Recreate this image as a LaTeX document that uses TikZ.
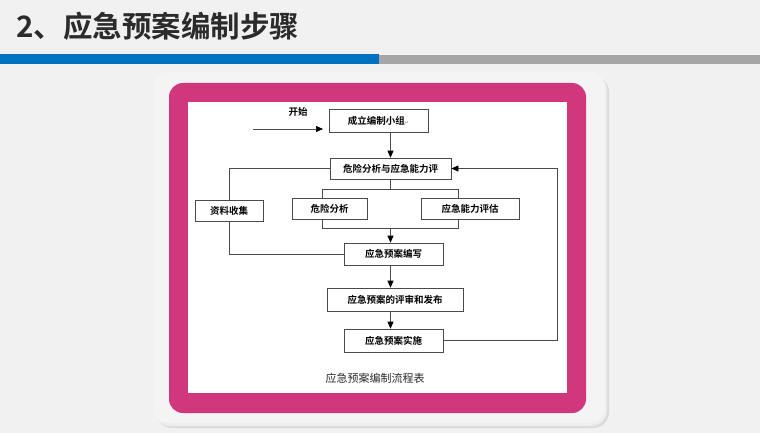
\documentclass[tikz,border=0pt]{standalone}
\usepackage{fontspec}
\newfontfamily\cjk{Noto Sans CJK SC}
\newfontfamily\cjkb{Noto Sans CJK SC Bold}
\newfontfamily\dejavuf{DejaVu Sans}
\usetikzlibrary{arrows.meta,shadows,calc}
\definecolor{bgc}{HTML}{F1F1F1}
\definecolor{pinkc}{HTML}{D0377C}
\definecolor{bluec}{HTML}{0070C0}
\definecolor{grayc}{HTML}{A6A6A6}
\definecolor{framec}{HTML}{F4F4F4}
\definecolor{linec}{HTML}{4A4A4A}
\definecolor{titlec}{HTML}{2B2B2B}
\tikzset{
  box/.style={draw=linec, line width=0.7pt, fill=white, inner sep=0pt, minimum height=21pt,
    font=\cjkb\fontsize{9.5}{10}\selectfont, text=black},
  conn/.style={draw=linec, line width=0.7pt},
  arr/.style={conn, -{Triangle[length=7pt,width=6pt,fill=black,color=black]}},
}
\begin{document}
\begin{tikzpicture}[x=1pt,y=-1pt]
\fill[bgc] (0,0) rectangle (760,433);
\useasboundingbox (0,0) rectangle (760,433);
% title
\node[anchor=west, inner sep=0pt, text=titlec, font=\cjkb\fontsize{29.5}{30}\selectfont] (title) at (16,26) {2、应急预案编制步骤};
% bars
\fill[bluec] (0,54) rectangle (379,64);
\fill[grayc] (379,55) rectangle (760,64);
% frame
\fill[black!14, rounded corners=16pt] (156,76) rectangle (609,428);
\fill[black!7, rounded corners=16pt] (154,74) rectangle (607,426);
\fill[framec, rounded corners=15pt] (153,72) rectangle (605,423);
\fill[pinkc, rounded corners=14pt] (169,83) rectangle (586,413);
\fill[white] (188,102) rectangle (567,393);
% nodes
\node[inner sep=0pt, font=\cjkb\fontsize{9.5}{10}\selectfont] (start) at (298,112) {开始};
\coordinate (s0) at (253,129);
\coordinate (s1) at (323,129);
\node[box, minimum width=99pt, minimum height=23pt] (n1) at (378.5,120.5) {成立编制小组{\dejavuf\fontsize{5}{5}\selectfont\color{gray}↵}};
\node[box, minimum width=121pt] (n2) at (390.5,168.5) {危险分析与应急能力评};
\node[box, minimum width=68pt] (n3) at (229,210.5) {资料收集};
\node[box, minimum width=75pt] (n4) at (329.5,208.5) {危险分析};
\node[box, minimum width=98pt] (n5) at (470,208.5) {应急能力评估};
\node[box, minimum width=99pt, minimum height=22pt] (n6) at (393.5,254) {应急预案编写};
\node[box, minimum width=136pt, minimum height=23pt] (n7) at (395,299.5) {应急预案的评审和发布};
\node[box, minimum width=99pt, minimum height=23pt] (n8) at (393.5,340.5) {应急预案实施};
\node[inner sep=0pt, font=\cjk\fontsize{11}{12}\selectfont, text=titlec] (cap) at (375,378) {应急预案编制流程表};
% connectors
\draw[arr] (s0) -- (s1);
\draw[arr] (n2.north |- n1.south) -- (n2.north);
\coordinate (b1) at (322,189);
\coordinate (b2) at (458,189);
\coordinate (m1) at (322,228);
\coordinate (m2) at (458,228);
\draw[conn] (n2.south) -- (n2.south |- b1);
\draw[conn] (b1 |- n4.north) -- (b1) -- (b2) -- (b2 |- n5.north);
\draw[conn] (b1 |- n4.south) -- (m1) -- (m2) -- (m2 |- n5.south);
\draw[arr] (n2.south |- m1) -- (n2.south |- n6.north);
\draw[conn] (n2.west) -| (n3.north);
\draw[conn] (n3.south) |- (n6.west);
\draw[arr] (n2.south |- n6.south) -- (n2.south |- n7.north);
\draw[arr] (n2.south |- n7.south) -- (n2.south |- n8.north);
\coordinate (fb) at (557,168.5);
\draw[arr] (n8.east) -| (fb) -- (n2.east);
\end{tikzpicture}
\end{document}
